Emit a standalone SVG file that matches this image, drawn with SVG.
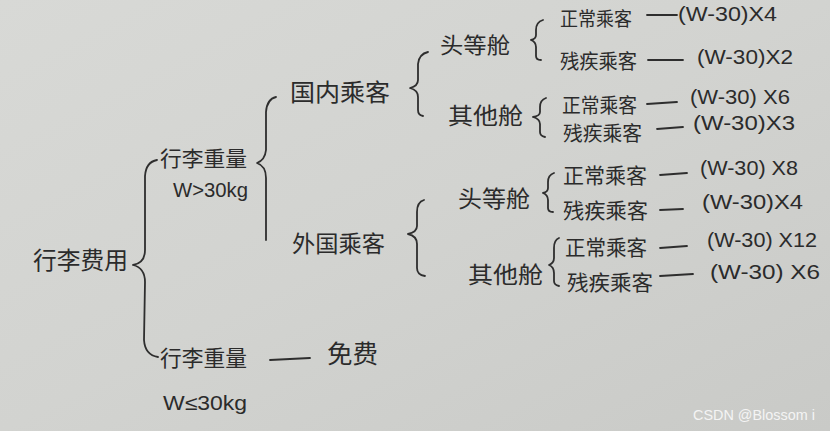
<svg xmlns="http://www.w3.org/2000/svg" width="830" height="431" viewBox="0 0 830 431">
<defs>
<linearGradient id="paper" x1="0" y1="0" x2="1" y2="1">
<stop offset="0" stop-color="#d8d9d6"/>
<stop offset="0.5" stop-color="#d2d3d0"/>
<stop offset="1" stop-color="#c9cac7"/>
</linearGradient>
<style>
.cn{font-family:"Noto Sans CJK SC","Noto Sans",sans-serif;fill:#2b2b2b;font-weight:400}
.f{font-family:"Liberation Sans","DejaVu Sans",sans-serif;fill:#2b2b2b}
.br{fill:none;stroke:#2e2e2e;stroke-width:1.8;stroke-linecap:round;stroke-linejoin:round}
.wm{font-family:"Liberation Sans",Arial,sans-serif;font-size:14px;fill:#f4f4f4}
</style>
</defs>
<rect width="830" height="431" fill="url(#paper)"/>
<g id="connectors">
<path class="br" d="M157,160 Q146,162 145,176 L145,250 Q145,263 133,265 Q145,268 145,282 L144,340 Q145,355 158,357"/>
<path class="br" d="M276,97 Q267,99 266,112 L266,150 Q265,160 257,163 Q266,166 266,178 L266,240"/>
<path class="br" d="M428,52 Q419,54 418,64 L418,80 Q418,86 410,88 Q418,90 418,97 L418,110 Q418,115 423,116"/>
<path class="br" d="M424,200 Q417,202 417,212 L417,226 Q417,232 408,234 Q417,236 417,244 L417,268 Q417,275 425,276"/>
<path class="br" d="M543,20 Q536,22 536,30 L536,35 Q536,39 531,40 Q536,42 536,47 L536,56 Q536,60 541,60"/>
<path class="br" d="M546,98 Q540,100 540,107 L540,112 Q540,116 533,117 Q540,119 540,124 L540,132 Q540,136 545,137"/>
<path class="br" d="M554,173 Q548,175 548,182 L548,188 Q548,192 543,193 Q548,195 548,200 L548,208 Q548,212 553,212"/>
<path class="br" d="M559,238 Q554,240 554,248 L554,258 Q554,263 549,265 Q554,267 554,273 L554,281 Q554,285 559,286"/>
<path class="br" d="M647,15 L677,15"/>
<path class="br" d="M648,60 L683,60"/>
<path class="br" d="M647,104 L677,102"/>
<path class="br" d="M657,129 L683,127"/>
<path class="br" d="M660,175 L687,173"/>
<path class="br" d="M660,210 L683,209"/>
<path class="br" d="M660,248 L687,246"/>
<path class="br" d="M660,276 L693,274"/>
<path class="br" d="M270,360 L310,358"/>
</g>
<g id="root"><text class="cn" x="33" y="269" font-size="24" textLength="95" lengthAdjust="spacingAndGlyphs">行李费用</text></g>
<g id="heavy"><text class="cn" x="160" y="166" font-size="21" textLength="87" lengthAdjust="spacingAndGlyphs">行李重量</text>
<text class="f" x="173" y="197" font-size="20" textLength="75" lengthAdjust="spacingAndGlyphs">W&gt;30kg</text></g>
<g id="domestic"><text class="cn" x="290" y="101" font-size="24" textLength="100" lengthAdjust="spacingAndGlyphs">国内乘客</text></g>
<g id="foreign"><text class="cn" x="292" y="252" font-size="23" textLength="93" lengthAdjust="spacingAndGlyphs">外国乘客</text></g>
<g id="dom-first"><text class="cn" x="440" y="53" font-size="22" textLength="70" lengthAdjust="spacingAndGlyphs">头等舱</text></g>
<g id="dom-other"><text class="cn" x="448" y="124" font-size="23" textLength="75" lengthAdjust="spacingAndGlyphs">其他舱</text></g>
<g id="for-first"><text class="cn" x="458" y="207" font-size="23" textLength="72" lengthAdjust="spacingAndGlyphs">头等舱</text></g>
<g id="for-other"><text class="cn" x="468" y="283" font-size="23" textLength="75" lengthAdjust="spacingAndGlyphs">其他舱</text></g>
<g id="df-normal"><text class="cn" x="560" y="26" font-size="19" textLength="72" lengthAdjust="spacingAndGlyphs">正常乘客</text>
<text class="f" x="678" y="21" font-size="20" textLength="99" lengthAdjust="spacingAndGlyphs">(W-30)X4</text></g>
<g id="df-disabled"><text class="cn" x="560" y="69" font-size="20" textLength="77" lengthAdjust="spacingAndGlyphs">残疾乘客</text>
<text class="f" x="697" y="64" font-size="20" textLength="96" lengthAdjust="spacingAndGlyphs">(W-30)X2</text></g>
<g id="do-normal"><text class="cn" x="562" y="113" font-size="20" textLength="75" lengthAdjust="spacingAndGlyphs">正常乘客</text>
<text class="f" x="690" y="104" font-size="20" textLength="100" lengthAdjust="spacingAndGlyphs">(W-30) X6</text></g>
<g id="do-disabled"><text class="cn" x="563" y="141" font-size="20" textLength="79" lengthAdjust="spacingAndGlyphs">残疾乘客</text>
<text class="f" x="693" y="130" font-size="20" textLength="102" lengthAdjust="spacingAndGlyphs">(W-30)X3</text></g>
<g id="ff-normal"><text class="cn" x="563" y="183" font-size="21" textLength="84" lengthAdjust="spacingAndGlyphs">正常乘客</text>
<text class="f" x="700" y="175" font-size="20" textLength="98" lengthAdjust="spacingAndGlyphs">(W-30) X8</text></g>
<g id="ff-disabled"><text class="cn" x="563" y="218" font-size="21" textLength="85" lengthAdjust="spacingAndGlyphs">残疾乘客</text>
<text class="f" x="702" y="209" font-size="20" textLength="101" lengthAdjust="spacingAndGlyphs">(W-30)X4</text></g>
<g id="fo-normal"><text class="cn" x="565" y="255" font-size="21" textLength="82" lengthAdjust="spacingAndGlyphs">正常乘客</text>
<text class="f" x="707" y="247" font-size="20" textLength="110" lengthAdjust="spacingAndGlyphs">(W-30) X12</text></g>
<g id="fo-disabled"><text class="cn" x="567" y="290" font-size="21" textLength="86" lengthAdjust="spacingAndGlyphs">残疾乘客</text>
<text class="f" x="710" y="279" font-size="20" textLength="110" lengthAdjust="spacingAndGlyphs">(W-30) X6</text></g>
<g id="light"><text class="cn" x="160" y="366" font-size="22" textLength="87" lengthAdjust="spacingAndGlyphs">行李重量</text>
<text class="f" x="163" y="410" font-size="20" textLength="84" lengthAdjust="spacingAndGlyphs">W≤30kg</text></g>
<g id="free"><text class="cn" x="327" y="363" font-size="25" textLength="51" lengthAdjust="spacingAndGlyphs">免费</text></g>
<text class="wm" x="693" y="420" textLength="122" lengthAdjust="spacingAndGlyphs">CSDN @Blossom i</text>
</svg>
